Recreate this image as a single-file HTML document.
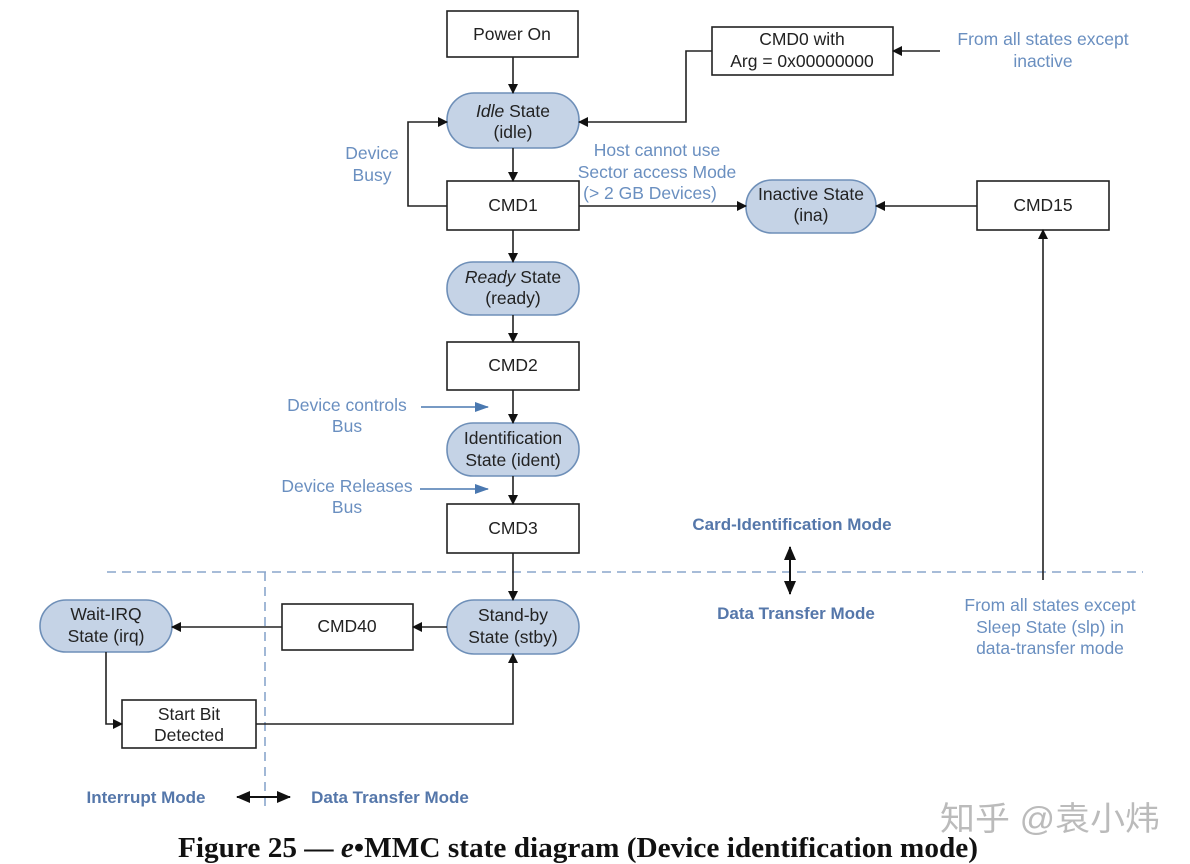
<!DOCTYPE html>
<html><head><meta charset="utf-8"><style>
html,body{margin:0;padding:0;background:#fff;}
svg{display:block;}
text{font-family:"Liberation Sans",sans-serif;font-size:17.5px;fill:#222;}
.b{fill:#6a8fc0;}
.bb{fill:#5577aa;font-weight:bold;font-size:17px;}
</style></head><body>
<svg width="1190" height="864" viewBox="0 0 1190 864" xmlns="http://www.w3.org/2000/svg">
<defs>
<marker id="a" markerWidth="10" markerHeight="10" refX="9" refY="5" orient="auto" markerUnits="userSpaceOnUse"><path d="M0,0 L10,5 L0,10 z" fill="#111"/></marker>
<marker id="ab" markerWidth="14" markerHeight="10" refX="13" refY="5" orient="auto" markerUnits="userSpaceOnUse"><path d="M0,0 L14,5 L0,10 z" fill="#4a78b0"/></marker>
<marker id="ak" markerWidth="14" markerHeight="12" refX="13" refY="6" orient="auto" markerUnits="userSpaceOnUse"><path d="M0,0 L14,6 L0,12 z" fill="#111"/></marker>
</defs>
<g stroke="#222" stroke-width="1.6" fill="#fff">
<rect x="447" y="11" width="131" height="46"/>
<rect x="447" y="181" width="132" height="49"/>
<rect x="447" y="342" width="132" height="48"/>
<rect x="447" y="504" width="132" height="49"/>
<rect x="282" y="604" width="131" height="46"/>
<rect x="122" y="700" width="134" height="48"/>
<rect x="712" y="27" width="181" height="48"/>
<rect x="977" y="181" width="132" height="49"/>
</g>
<g stroke="#6e8fb8" stroke-width="1.6" fill="#c5d3e6">
<rect x="447" y="93" width="132" height="55" rx="27"/>
<rect x="447" y="262" width="132" height="53" rx="26"/>
<rect x="447" y="423" width="132" height="53" rx="26"/>
<rect x="447" y="600" width="132" height="54" rx="27"/>
<rect x="40" y="600" width="132" height="52" rx="26"/>
<rect x="746" y="180" width="130" height="53" rx="26"/>
</g>
<g stroke="#8aa6cc" stroke-width="1.6" stroke-dasharray="9,6" fill="none">
<line x1="107" y1="572" x2="1143" y2="572"/>
<line x1="265" y1="572" x2="265" y2="808"/>
</g>
<g stroke="#222" stroke-width="1.6" fill="none" marker-end="url(#a)">
<line x1="513" y1="57" x2="513" y2="93"/>
<line x1="513" y1="148" x2="513" y2="181"/>
<line x1="513" y1="230" x2="513" y2="262"/>
<line x1="513" y1="315" x2="513" y2="342"/>
<line x1="513" y1="390" x2="513" y2="423"/>
<line x1="513" y1="476" x2="513" y2="504"/>
<line x1="513" y1="553" x2="513" y2="600"/>
<polyline points="447,206 408,206 408,122 447,122"/>
<polyline points="712,51 686,51 686,122 579,122"/>
<line x1="940" y1="51" x2="893" y2="51"/>
<line x1="579" y1="206" x2="746" y2="206"/>
<line x1="977" y1="206" x2="876" y2="206"/>
<line x1="1043" y1="580" x2="1043" y2="230"/>
<line x1="447" y1="627" x2="413" y2="627"/>
<line x1="282" y1="627" x2="172" y2="627"/>
<polyline points="106,652 106,724 122,724"/>
<polyline points="256,724 513,724 513,654"/>
</g>
<g stroke="#111" stroke-width="2" marker-end="url(#ak)">
<line x1="790" y1="570" x2="790" y2="547"/>
<line x1="790" y1="570" x2="790" y2="594"/>
<line x1="262" y1="797" x2="237" y2="797"/>
<line x1="262" y1="797" x2="290" y2="797"/>
</g>
<g stroke="#4a78b0" stroke-width="1.6" marker-end="url(#ab)">
<line x1="421" y1="407" x2="488" y2="407"/>
<line x1="420" y1="489" x2="488" y2="489"/>
</g>
<g text-anchor="middle">
<text x="512" y="40">Power On</text>
<text x="513" y="117"><tspan font-style="italic">Idle</tspan> State</text>
<text x="513" y="138">(idle)</text>
<text x="513" y="211">CMD1</text>
<text x="513" y="283"><tspan font-style="italic">Ready</tspan> State</text>
<text x="513" y="304">(ready)</text>
<text x="513" y="371">CMD2</text>
<text x="513" y="444">Identification</text>
<text x="513" y="466">State (ident)</text>
<text x="513" y="534">CMD3</text>
<text x="513" y="621">Stand-by</text>
<text x="513" y="643">State (stby)</text>
<text x="347" y="632">CMD40</text>
<text x="106" y="620">Wait-IRQ</text>
<text x="106" y="642">State (irq)</text>
<text x="189" y="720">Start Bit</text>
<text x="189" y="741">Detected</text>
<text x="802" y="45">CMD0 with</text>
<text x="802" y="67">Arg = 0x00000000</text>
<text x="811" y="200">Inactive State</text>
<text x="811" y="221">(ina)</text>
<text x="1043" y="211">CMD15</text>
<text class="b" x="1043" y="45">From all states except</text>
<text class="b" x="1043" y="67">inactive</text>
<text class="b" x="372" y="159">Device</text>
<text class="b" x="372" y="181">Busy</text>
<text class="b" x="657" y="156">Host cannot use</text>
<text class="b" x="657" y="178">Sector access Mode</text>
<text class="b" x="650" y="199">(&gt; 2 GB Devices)</text>
<text class="b" x="347" y="411">Device controls</text>
<text class="b" x="347" y="432">Bus</text>
<text class="b" x="347" y="492">Device Releases</text>
<text class="b" x="347" y="513">Bus</text>
<text class="b" x="1050" y="611">From all states except</text>
<text class="b" x="1050" y="633">Sleep State (slp) in</text>
<text class="b" x="1050" y="654">data-transfer mode</text>
<text class="bb" x="792" y="530">Card-Identification Mode</text>
<text class="bb" x="796" y="619">Data Transfer Mode</text>
<text class="bb" x="146" y="803">Interrupt Mode</text>
<text class="bb" x="390" y="803">Data Transfer Mode</text>
</g>
<text x="178" y="857" textLength="800" lengthAdjust="spacingAndGlyphs" style="font-family:'Liberation Serif',serif;font-weight:bold;font-size:28px;fill:#111">Figure 25 — <tspan font-style="italic">e</tspan>•MMC state diagram (Device identification mode)</text>
<text x="940" y="830" textLength="220" lengthAdjust="spacingAndGlyphs" style="font-family:'Liberation Sans','Noto Sans CJK SC',sans-serif;font-size:33px;fill:#bbb">知乎 @袁小炜</text>
</svg>
</body></html>
